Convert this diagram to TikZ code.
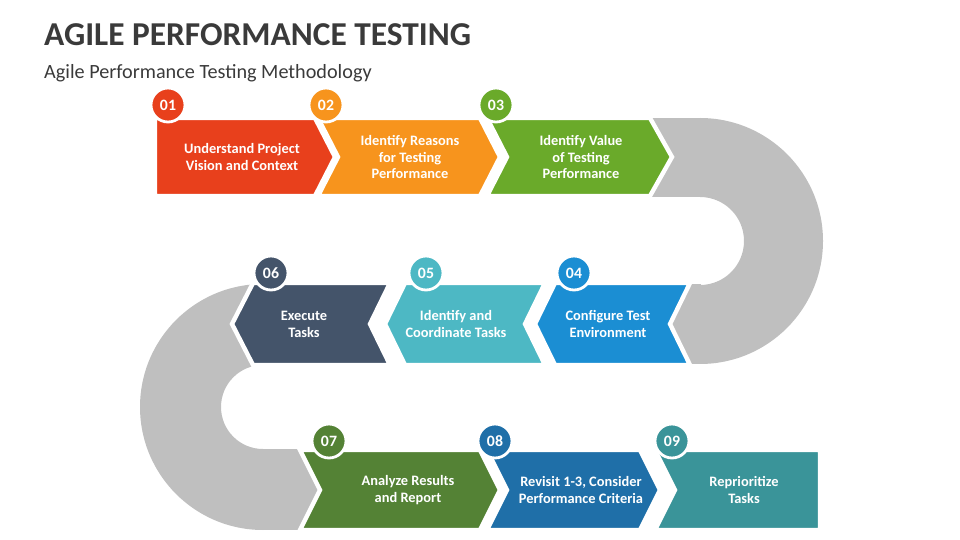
\documentclass[tikz,border=0pt]{standalone}
\usepackage{fontspec}
\setmainfont{Carlito}
\usetikzlibrary{positioning}
\definecolor{cRed}{HTML}{E8401C}
\definecolor{cOrange}{HTML}{F7941D}
\definecolor{cGreen}{HTML}{6AAA2A}
\definecolor{cBlue}{HTML}{1B8ED3}
\definecolor{cTeal}{HTML}{4DB8C4}
\definecolor{cSlate}{HTML}{44546A}
\definecolor{cDkGreen}{HTML}{548235}
\definecolor{cNavy}{HTML}{1F6FA8}
\definecolor{cSea}{HTML}{3A9499}
\definecolor{cBand}{HTML}{BFBFBF}
\definecolor{cTitle}{HTML}{3A3A3A}
\tikzset{
  chev/.style={fill=#1, draw=white, line width=2.5pt, line join=miter},
  label/.style={text=white, font=\fontsize{8.2}{9.6}\selectfont\bfseries, align=center},
  badge/.style={circle, fill=#1, draw=white, line width=1.6pt, minimum size=34*0.02cm,
    inner sep=0pt, text=white, font=\fontsize{9}{10}\selectfont\bfseries,
    append after command={(\tikzlastnode.center) circle[radius=18.5*0.02cm]}},
}
\begin{document}
\begin{tikzpicture}[x=0.02cm, y=-0.02cm]
  \useasboundingbox (0,0) rectangle (960,540);
  % title
  \node[anchor=west, text=cTitle, font=\fontsize{19}{22}\selectfont\bfseries] (title) at (38,35) {AGILE PERFORMANCE TESTING};
  \node[anchor=west, text=cTitle, font=\fontsize{11.5}{13}\selectfont] (subtitle) at (38,73) {Agile Performance Testing Methodology};

  % gray bands
  \begin{scope}
    \clip (700,100) rectangle (850,380);
    \fill[cBand, even odd rule] (700,241) circle[radius=123] (700,241) circle[radius=44];
  \end{scope}
  \fill[cBand] (640,118) rectangle (701,197);
  \fill[cBand] (660,284) rectangle (701,364);
  \begin{scope}
    \clip (120,270) rectangle (263,545);
    \fill[cBand, even odd rule] (263,407) circle[radius=123] (263,407) circle[radius=42];
  \end{scope}
  \fill[cBand] (262,284) rectangle (290,365);
  \fill[cBand] (262,449) rectangle (320,530);

  % row 1
  \draw[chev=cRed] (155,118) -- (315,118) -- (335,157) -- (315,196) -- (155,196) -- cycle;
  \draw[chev=cOrange] (318,118) -- (480,118) -- (500,157) -- (480,196) -- (318,196) -- (338,157) -- cycle;
  \draw[chev=cGreen] (487,118) -- (650,118) -- (672,157) -- (650,196) -- (487,196) -- (507,157) -- cycle;
  % row 2
  \draw[chev=cBlue] (690,283) -- (555,283) -- (535,324) -- (555,365) -- (690,365) -- (670,324) -- cycle;
  \draw[chev=cTeal] (545,283) -- (405,283) -- (385,324) -- (405,365) -- (545,365) -- (525,324) -- cycle;
  \draw[chev=cSlate] (390,283) -- (253,283) -- (232,324) -- (253,365) -- (390,365) -- (370,324) -- cycle;
  % row 3
  \draw[chev=cDkGreen] (300,450) -- (480,450) -- (500,490) -- (480,530) -- (300,530) -- (320,490) -- cycle;
  \draw[chev=cNavy] (487,450) -- (640,450) -- (660,490) -- (640,530) -- (487,530) -- (507,490) -- cycle;
  \draw[chev=cSea] (655,450) -- (820,450) -- (820,530) -- (655,530) -- (675,490) -- cycle;

  % labels
  \node[label] (t1) at (242,157) {Understand Project\\Vision and Context};
  \node[label] (t2) at (410,157) {Identify Reasons\\for Testing\\Performance};
  \node[label] (t3) at (581,157) {Identify Value\\of Testing\\Performance};
  \node[label] (t4) at (608,324) {Configure Test\\Environment};
  \node[label] (t5) at (456,324) {Identify and\\Coordinate Tasks};
  \node[label] (t6) at (304,324) {Execute\\Tasks};
  \node[label] (t7) at (408,490) {Analyze Results\\and Report};
  \node[label] (t8) at (581,490) {Revisit 1-3, Consider\\Performance Criteria};
  \node[label] (t9) at (744,490) {Reprioritize\\Tasks};

  % badges
  \node[badge=cRed] (b1) at (168,105) {01};
  \node[badge=cOrange] (b2) at (326,105) {02};
  \node[badge=cGreen] (b3) at (496,105) {03};
  \node[badge=cBlue] (b4) at (574,273) {04};
  \node[badge=cTeal] (b5) at (426,273) {05};
  \node[badge=cSlate] (b6) at (271,273) {06};
  \node[badge=cDkGreen] (b7) at (329,441) {07};
  \node[badge=cNavy] (b8) at (495,441) {08};
  \node[badge=cSea] (b9) at (672,441) {09};
\end{tikzpicture}
\end{document}
